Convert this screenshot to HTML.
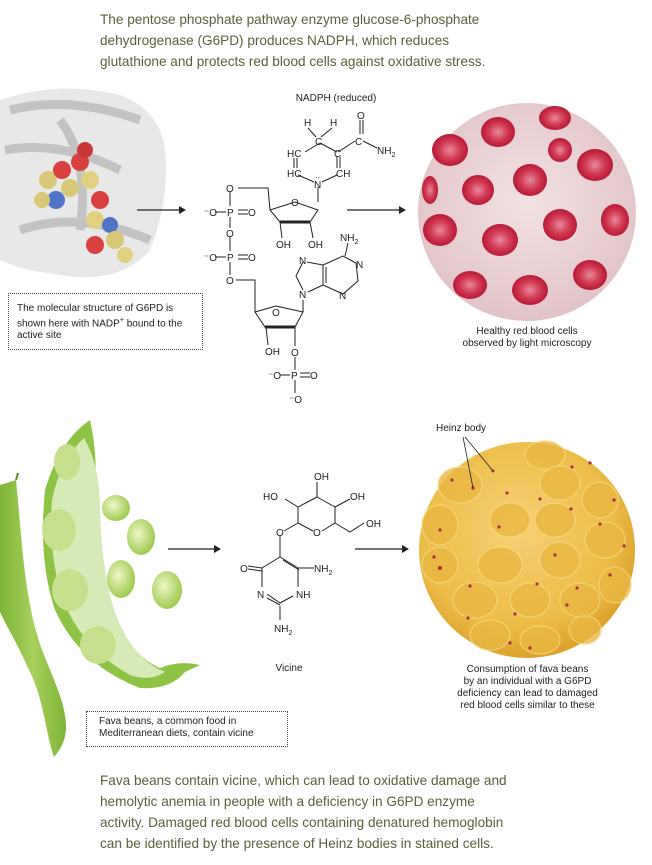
<!DOCTYPE html>
<html><head><meta charset="utf-8"><style>
body{margin:0;background:#fff;width:652px;height:865px;overflow:hidden;font-family:"Liberation Sans",sans-serif}
.t{position:absolute;color:#5e5e3c;font-size:13.6px;line-height:21px;white-space:nowrap}
.c{position:absolute;font-size:10px;line-height:12px;color:#222;text-align:center}
.box{position:absolute;border:1px dotted #444;font-size:10px;line-height:12px;color:#222;padding:4px 8px;box-sizing:border-box}
svg{position:absolute;left:0;top:0}
</style></head><body>
<svg width="652" height="865" font-family="Liberation Sans, sans-serif" font-size="10" fill="#222">
<defs>
<radialGradient id="pk" cx="50%" cy="45%" r="55%"><stop offset="0" stop-color="#f3e2e3"/><stop offset="1" stop-color="#e2c4c8"/></radialGradient>
<radialGradient id="yl" cx="45%" cy="40%" r="60%"><stop offset="0" stop-color="#f6d274"/><stop offset="0.75" stop-color="#ecbc48"/><stop offset="1" stop-color="#dca22c"/></radialGradient>
<radialGradient id="rc" cx="50%" cy="50%" r="50%"><stop offset="0" stop-color="#e88a9a"/><stop offset="0.55" stop-color="#d23c55"/><stop offset="1" stop-color="#b81a36"/></radialGradient>
<radialGradient id="gr" cx="40%" cy="40%" r="60%"><stop offset="0" stop-color="#eef6c8"/><stop offset="1" stop-color="#9fcc50"/></radialGradient>
<linearGradient id="pod" x1="0" y1="0" x2="1" y2="0"><stop offset="0" stop-color="#7fb436"/><stop offset="0.5" stop-color="#a6d05a"/><stop offset="1" stop-color="#7fb436"/></linearGradient>
</defs>
<!-- protein -->
<g opacity="0.9">
<path d="M0 100 Q60 80 120 95 Q160 110 165 150 Q170 200 150 250 Q120 285 60 275 Q20 270 0 260 Z" fill="#e6e6e6"/>
<path d="M10 110 Q70 95 140 120 M5 150 Q60 140 120 170 M20 230 Q80 210 150 240 M60 120 Q90 160 80 230" stroke="#bdbdbd" stroke-width="9" fill="none"/>
</g>
<g>
<circle cx="48" cy="180" r="9" fill="#d9c878"/><circle cx="62" cy="170" r="9" fill="#d94040"/><circle cx="70" cy="188" r="9" fill="#d9c878"/>
<circle cx="56" cy="200" r="9" fill="#4f74c8"/><circle cx="80" cy="162" r="9" fill="#d94040"/><circle cx="90" cy="180" r="9" fill="#e0d080"/>
<circle cx="100" cy="200" r="9" fill="#d94040"/><circle cx="95" cy="220" r="9" fill="#e0d080"/><circle cx="110" cy="225" r="8" fill="#4f74c8"/>
<circle cx="115" cy="240" r="9" fill="#d9c878"/><circle cx="95" cy="245" r="9" fill="#d94040"/><circle cx="125" cy="255" r="8" fill="#e0d080"/>
<circle cx="85" cy="150" r="8" fill="#c83838"/><circle cx="42" cy="200" r="8" fill="#d9c878"/>
</g>
<!-- arrows -->
<g stroke="#222" stroke-width="1.2">
<line x1="137" y1="210" x2="180" y2="210"/><line x1="347" y1="210" x2="400" y2="210"/>
<line x1="168" y1="549" x2="215" y2="549"/><line x1="355" y1="549" x2="403" y2="549"/>
</g>
<g fill="#222"><path d="M179 206 L186 210 L179 214Z"/><path d="M399 206 L406 210 L399 214Z"/><path d="M214 545 L221 549 L214 553Z"/><path d="M402 545 L409 549 L402 553Z"/></g>
<!-- NADPH -->
<text x="336" y="101" text-anchor="middle">NADPH (reduced)</text>
<g stroke="#222" stroke-width="1" fill="none">
<path d="M308 128 L316 137 M332 128 L321 137 M320 143 L305 152 M320 143 L337 152 M338 152 L355 141 M360 120 L360 134 M363 120 L363 134 M363 141 L377 148 M294 158 L294 168 M297 158 L297 168 M337 156 L337 168 M340 157 L340 168 M298 175 L314 182 M337 175 L322 182 M318 187 L318 202"/>
<path d="M270 210 L295 202 L318 210 L310 222 L280 222 Z"/><path d="M280 222 L310 222" stroke-width="3"/>
<path d="M280 222 L282 238 M310 222 L313 238 M270 210 L268 188 L238 188"/>
<path d="M230 192 L230 206 M215 212 L226 212 M238 210 L248 210 M238 214 L248 214 M230 217 L230 228 M230 237 L230 251 M215 257 L226 257 M238 255 L248 255 M238 259 L248 259 M230 262 L230 275 M236 280 L255 280 L255 312"/>
<path d="M255 312 L276 306 L303 312 L295 327 L265 327 Z"/><path d="M265 327 L295 327" stroke-width="3"/>
<path d="M266 327 L268 345 M295 327 L295 346 M295 357 L295 370 M280 375 L290 375 M300 373 L310 373 M300 377 L310 377 M295 380 L295 393 M303 312 L303 300"/>
<path d="M303 290 L296 276 L303 262 M307 262 L323 265 L323 285 L308 292 M323 265 L343 256 L356 263 L358 281 L343 294 L323 285 M326 267 L326 283 M345 256 L348 243"/>
</g>
<g font-size="10">
<text x="304" y="126">H</text><text x="330" y="126">H</text><text x="357" y="119">O</text><text x="315" y="145">C</text><text x="355" y="145">C</text>
<text x="377" y="154">NH<tspan font-size="7" dy="3">2</tspan></text><text x="287" y="157">HC</text><text x="334" y="157">C</text>
<text x="287" y="177">HC</text><text x="336" y="177">CH</text><text x="314" y="188">N</text><text x="315" y="180" font-size="8">··</text>
<text x="291" y="206">O</text><text x="276" y="248">OH</text><text x="308" y="248">OH</text>
<text x="226" y="192">O</text><text x="204" y="216">⁻O</text><text x="227" y="216">P</text><text x="248" y="216">O</text>
<text x="226" y="237">O</text><text x="204" y="261">⁻O</text><text x="227" y="261">P</text><text x="248" y="261">O</text><text x="226" y="284">O</text>
<text x="272" y="316">O</text><text x="265" y="355">OH</text><text x="291" y="356">O</text>
<text x="268" y="379">⁻O</text><text x="291" y="379">P</text><text x="310" y="379">O</text><text x="289" y="403">⁻O</text>
<text x="299" y="298">N</text><text x="299" y="264">N</text><text x="356" y="268">N</text><text x="339" y="299">N</text>
<text x="340" y="241">NH<tspan font-size="7" dy="3">2</tspan></text>
</g>
<!-- Vicine -->
<g stroke="#222" stroke-width="1" fill="none">
<path d="M317 497 L298 507 L298 523 L313 531 M322 531 L335 523 L335 507 L317 497 M317 497 L317 482 M298 507 L285 499 M335 507 L350 499 M335 523 L350 532 L364 523 M298 523 L284 531"/>
<path d="M280 536 L280 557 L262 568 L262 587 M280 557 L298 568 L298 587 M283 560 L299 570 M298 568 L314 568 M262 568 L248 566 M262 571 L248 569 M267 594 L280 603 L293 596 M267 598 L280 605 M280 606 L280 620"/>
</g>
<g font-size="10">
<text x="314" y="480">OH</text><text x="263" y="500">HO</text><text x="350" y="500">OH</text><text x="313" y="536">O</text><text x="366" y="527">OH</text>
<text x="276" y="536">O</text><text x="240" y="572">O</text><text x="314" y="572">NH<tspan font-size="7" dy="3">2</tspan></text>
<text x="257" y="598">N</text><text x="296" y="598">NH</text><text x="274" y="632">NH<tspan font-size="7" dy="3">2</tspan></text>
<text x="289" y="671" text-anchor="middle">Vicine</text>
</g>
<!-- RBC circle -->
<circle cx="527" cy="212" r="109" fill="url(#pk)"/>
<g fill="url(#rc)">
<ellipse cx="450" cy="150" rx="18" ry="16"/><ellipse cx="498" cy="132" rx="17" ry="15"/><ellipse cx="555" cy="118" rx="16" ry="12"/>
<ellipse cx="595" cy="165" rx="18" ry="16"/><ellipse cx="530" cy="180" rx="17" ry="16"/><ellipse cx="478" cy="190" rx="16" ry="15"/>
<ellipse cx="440" cy="230" rx="17" ry="16"/><ellipse cx="500" cy="240" rx="18" ry="16"/><ellipse cx="560" cy="225" rx="17" ry="16"/>
<ellipse cx="615" cy="220" rx="14" ry="16"/><ellipse cx="470" cy="285" rx="17" ry="14"/><ellipse cx="530" cy="290" rx="18" ry="15"/>
<ellipse cx="590" cy="275" rx="17" ry="15"/><ellipse cx="560" cy="150" rx="12" ry="12"/><ellipse cx="430" cy="190" rx="8" ry="14"/>
</g>
<!-- Yellow circle -->
<circle cx="527" cy="550" r="108" fill="url(#yl)"/>
<g stroke="#f5d77e" stroke-width="1.2" fill="#e9b743" opacity="0.8">
<ellipse cx="460" cy="485" rx="22" ry="18"/><ellipse cx="545" cy="455" rx="20" ry="14"/><ellipse cx="560" cy="483" rx="20" ry="17"/><ellipse cx="600" cy="500" rx="18" ry="18"/>
<ellipse cx="440" cy="525" rx="18" ry="20"/><ellipse cx="510" cy="520" rx="20" ry="17"/><ellipse cx="555" cy="520" rx="20" ry="17"/><ellipse cx="605" cy="540" rx="20" ry="18"/>
<ellipse cx="440" cy="565" rx="18" ry="18"/><ellipse cx="500" cy="565" rx="22" ry="18"/><ellipse cx="560" cy="560" rx="20" ry="18"/><ellipse cx="615" cy="585" rx="16" ry="18"/>
<ellipse cx="475" cy="600" rx="22" ry="18"/><ellipse cx="530" cy="600" rx="20" ry="17"/><ellipse cx="580" cy="600" rx="20" ry="17"/>
<ellipse cx="490" cy="635" rx="20" ry="15"/><ellipse cx="540" cy="640" rx="20" ry="14"/><ellipse cx="585" cy="630" rx="16" ry="14"/>
</g>
<g fill="#a8303a">
<circle cx="473" cy="488" r="1.7"/><circle cx="493" cy="471" r="1.5"/><circle cx="452" cy="480" r="1.6"/><circle cx="507" cy="493" r="1.6"/><circle cx="540" cy="499" r="1.6"/>
<circle cx="571" cy="509" r="1.6"/><circle cx="600" cy="524" r="1.6"/><circle cx="440" cy="530" r="1.6"/><circle cx="499" cy="527" r="1.6"/><circle cx="440" cy="568" r="2"/>
<circle cx="434" cy="557" r="1.6"/><circle cx="555" cy="555" r="1.6"/><circle cx="610" cy="575" r="1.6"/><circle cx="537" cy="584" r="1.6"/><circle cx="470" cy="586" r="1.6"/>
<circle cx="577" cy="588" r="1.6"/><circle cx="468" cy="618" r="1.6"/><circle cx="515" cy="614" r="1.6"/><circle cx="567" cy="605" r="1.6"/><circle cx="510" cy="643" r="1.6"/>
<circle cx="530" cy="648" r="1.6"/><circle cx="590" cy="463" r="1.6"/><circle cx="572" cy="467" r="1.6"/><circle cx="614" cy="500" r="1.6"/><circle cx="624" cy="546" r="1.6"/>
</g>
<text x="436" y="431">Heinz body</text>
<path d="M463 437 L473 488 M465 437 L493 471" stroke="#222" stroke-width="0.8"/>
<!-- beans -->
<path d="M0 485 L16 480 C22 540 24 600 42 650 C62 700 78 730 54 757 C46 735 44 700 30 672 C18 645 6 625 0 612 Z" fill="url(#pod)"/>
<path d="M16 480 L18 473" stroke="#5d8d1e" stroke-width="2"/>
<path d="M90 420 Q60 440 45 490 Q38 560 55 610 Q80 665 140 688 Q170 690 185 672 L200 665 Q180 660 160 668 Q130 655 110 610 Q95 560 95 500 Q98 455 90 420 Z" fill="#8ec444"/>
<path d="M84 438 Q60 460 52 500 Q48 560 65 605 Q85 650 130 675 Q150 682 165 672 Q135 660 118 620 Q102 580 100 510 Q100 465 84 438 Z" fill="#d6eab8"/>
<ellipse cx="67" cy="462" rx="13" ry="18" fill="#c6e08e"/><ellipse cx="59" cy="530" rx="17" ry="21" fill="#c6e08e"/>
<ellipse cx="70" cy="590" rx="18" ry="21" fill="#c6e08e"/><ellipse cx="98" cy="645" rx="18" ry="19" fill="#c6e08e"/>
<ellipse cx="116" cy="508" rx="14" ry="13" fill="url(#gr)"/><ellipse cx="141" cy="537" rx="14" ry="18" fill="url(#gr)"/>
<ellipse cx="121" cy="579" rx="14" ry="19" fill="url(#gr)"/><ellipse cx="167" cy="590" rx="15" ry="19" fill="url(#gr)"/>
</svg>
<div class="t" style="left:100px;top:9px">The pentose phosphate pathway enzyme glucose-6-phosphate<br>dehydrogenase (G6PD) produces NADPH, which reduces<br>glutathione and protects red blood cells against oxidative stress.</div>
<div class="box" style="left:8px;top:293px;width:195px;height:57px;padding-top:9px">The molecular structure of G6PD is shown here with NADP<sup style="font-size:7px">+</sup> bound to the active site</div>
<div class="c" style="left:437px;top:326px;width:180px">Healthy red blood cells<br>observed by light microscopy</div>
<div class="c" style="left:430px;top:664px;width:195px">Consumption of fava beans<br>by an individual with a G6PD<br>deficiency can lead to damaged<br>red blood cells similar to these</div>
<div class="box" style="left:86px;top:711px;width:202px;height:36px;padding-left:12px">Fava beans, a common food in<br>Mediterranean diets, contain vicine</div>
<div class="t" style="left:100px;top:770px">Fava beans contain vicine, which can lead to oxidative damage and<br>hemolytic anemia in people with a deficiency in G6PD enzyme<br>activity. Damaged red blood cells containing denatured hemoglobin<br>can be identified by the presence of Heinz bodies in stained cells.</div>
</body></html>
